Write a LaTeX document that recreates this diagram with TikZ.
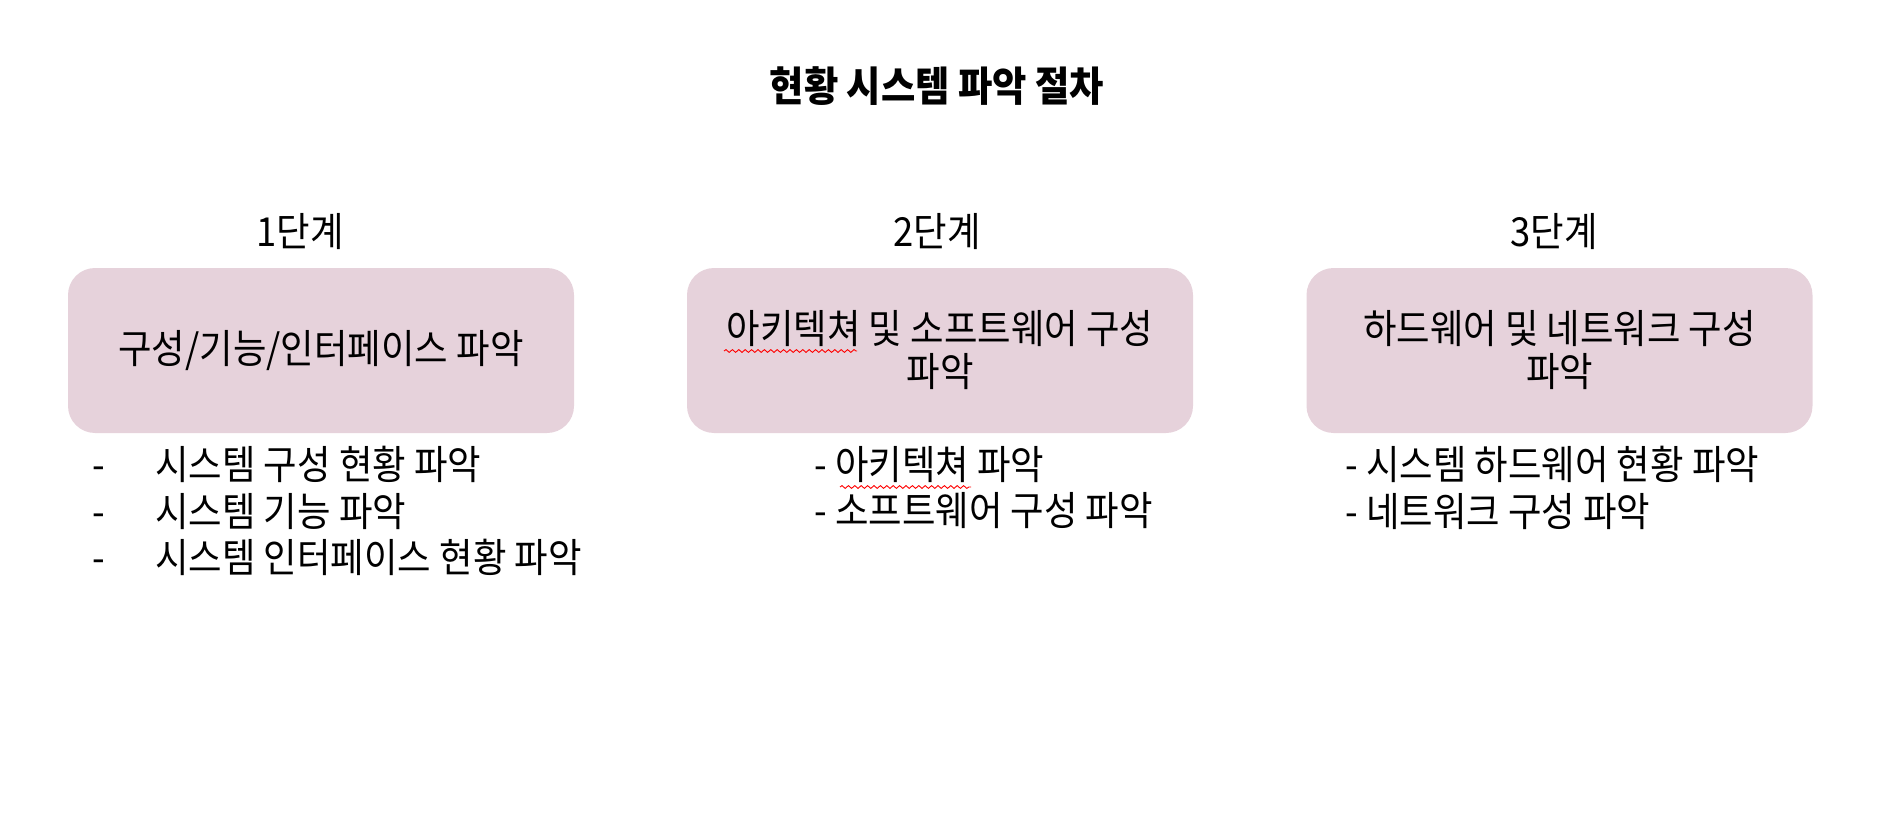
\documentclass[tikz,border=0pt]{standalone}
\usepackage{fontspec}
\setmainfont{Noto Sans CJK KR}[FakeStretch=0.91]
\usepackage{tikz}
\usetikzlibrary{decorations.pathmorphing}
\definecolor{boxpink}{RGB}{230,210,219}

\begin{document}
\begin{tikzpicture}[x=0.5pt,y=0.5pt]
\tikzstyle{every node}+=[inner sep=0pt]
\tikzstyle{stagebox}=[fill=boxpink, rounded corners=13.5pt, minimum width=253pt, minimum height=82.5pt, align=center, font=\fontsize{20}{21.5}\selectfont]
\tikzstyle{stagelabel}=[anchor=base, font=\fontsize{20}{22}\selectfont]
\tikzstyle{listtext}=[anchor=north west, align=left, font=\fontsize{20}{23.25}\selectfont]
\tikzstyle{spellmark}=[red, line width=0.45pt, decorate, decoration={snake, amplitude=0.7pt, segment length=3.2pt}]
\useasboundingbox (0,0) rectangle (1892,-813);
\draw (937,-102) node [anchor=base, font=\fontsize{20.5}{23}\selectfont\bfseries] (title) {현황 시스템 파악 절차};
% stages
\draw (300,-247) node [stagelabel] (s1) {1단계};
\draw (937,-247) node [stagelabel] (s2) {2단계};
\draw (1554,-247) node [stagelabel] (s3) {3단계};
\draw (321,-350.5) node [stagebox] (b1) {구성/기능/인터페이스 파악};
\draw (940,-350.5) node [stagebox] (b2) {아키텍쳐 및 소프트웨어 구성\\파악};
\draw (1559.5,-350.5) node [stagebox] (b3) {하드웨어 및 네트워크 구성\\파악};
% lists
\draw (92,-446) node [listtext] (l1) {\makebox[31.5pt][l]{-}시스템 구성 현황 파악\\\makebox[31.5pt][l]{-}시스템 기능 파악\\\makebox[31.5pt][l]{-}시스템 인터페이스 현황 파악};
\draw (814,-446) node [listtext] (l2) {- 아키텍쳐 파악\\- 소프트웨어 구성 파악};
\draw (1345,-446) node [listtext] (l3) {- 시스템 하드웨어 현황 파악\\- 네트워크 구성 파악};
% spell check marks
\coordinate (w1a) at (724,-351);
\coordinate (w1b) at (857,-351);
\coordinate (w2a) at (840,-487);
\coordinate (w2b) at (971,-487);
\draw [spellmark] (w1a) -- (w1b);
\draw [spellmark] (w2a) -- (w2b);
\end{tikzpicture}
\end{document}
